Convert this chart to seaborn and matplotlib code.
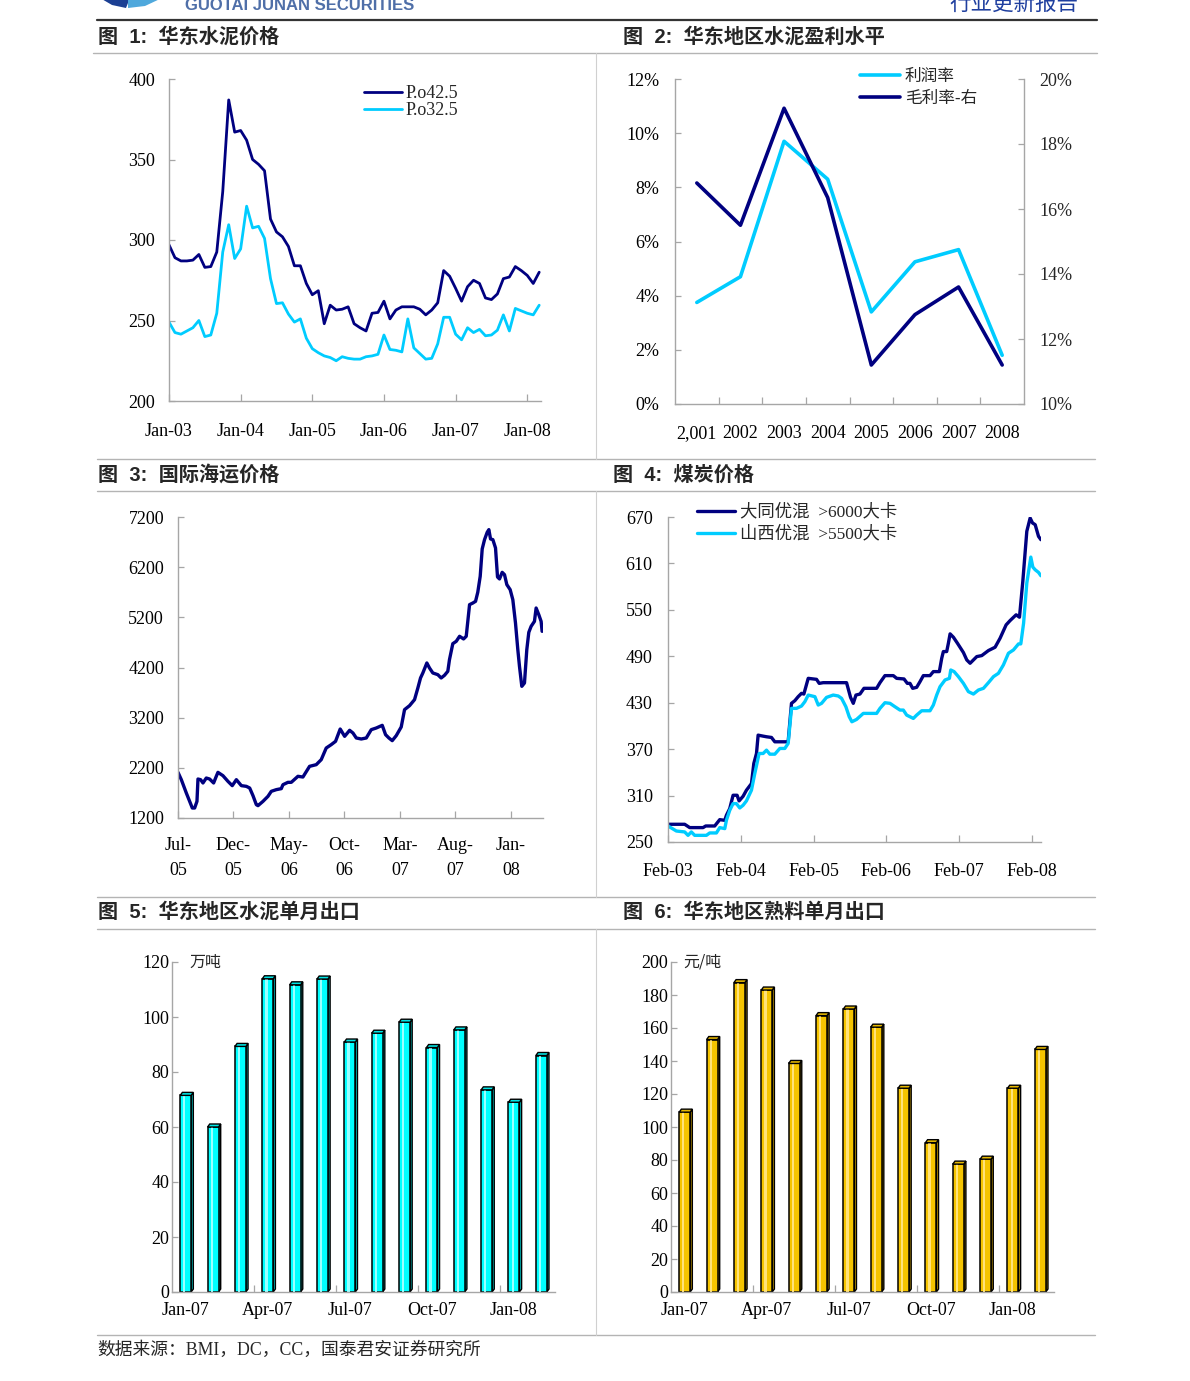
import numpy as np
import pandas as pd
import matplotlib
matplotlib.use('Agg')
import matplotlib.pyplot as plt
import seaborn as sns
from matplotlib.patches import Polygon, Rectangle
from matplotlib.lines import Line2D
from matplotlib.ticker import FixedLocator, FuncFormatter

# ---------------- data ----------------
# Fig 1: East China cement prices, monthly Jan-03 .. Mar-08
cement_xlabels = ['Jan-03', 'Jan-04', 'Jan-05', 'Jan-06', 'Jan-07', 'Jan-08']
po425 = [297, 289, 287, 287, 287.5, 291, 283, 283.5, 292.5, 330, 387, 367,
         368, 362, 350, 347, 343, 313, 305, 302, 296, 284, 284, 273,
         266, 268.5, 248, 259.5, 256.5, 257, 258.5, 248, 245.5, 243.5, 254.5, 255,
         262, 251, 256.5, 258.5, 258.5, 258.5, 257, 253.5, 256.5, 261, 281, 277.5,
         270, 262, 271, 275, 273, 264, 263, 266.5, 276, 277, 283.5, 281,
         278, 273, 280]
po325 = [249, 242.5, 241.5, 243.5, 245.5, 250, 240, 241, 254.5, 292.5, 309.5, 288.5,
         294.5, 321, 307.5, 308.5, 301, 276, 260.5, 261, 254, 249, 251, 239,
         232.5, 230, 228, 227, 225, 227.5, 226.5, 226, 226, 227.5, 228, 229,
         241, 232, 231.5, 230.5, 251, 233, 229.5, 226, 226.5, 235.5, 252, 252,
         241.5, 238, 245.5, 242.5, 244.5, 240.5, 241, 244, 253.5, 243.5, 257.5, 256,
         254.5, 253.5, 259.5]

# Fig 2: profitability (%)
years = ['2,001', '2002', '2003', '2004', '2005', '2006', '2007', '2008']
profit_margin = [3.75, 4.7, 9.7, 8.3, 3.4, 5.25, 5.7, 1.8]      # left axis
gross_margin = [16.8, 15.5, 19.1, 16.35, 11.2, 12.75, 13.6, 11.2]  # right axis

# Fig 3: shipping freight index (months since Jul-05, value)
freight_xlabels = ['Jul-\n05', 'Dec-\n05', 'May-\n06', 'Oct-\n06', 'Mar-\n07', 'Aug-\n07', 'Jan-\n08']
freight_t = [0.00, 0.30, 0.75, 1.05, 1.29, 1.50, 1.71, 1.80, 2.04, 2.25, 2.55, 2.85, 3.21, 3.45,
             3.60, 4.05, 4.50, 4.89, 5.26, 5.71, 6.16, 6.46, 6.76, 7.06, 7.21, 7.66, 8.11, 8.41,
             8.86, 9.31, 9.46, 9.91, 10.21, 10.81, 11.26, 11.86, 12.46, 12.91, 13.36, 13.81, 14.20,
             14.62, 15.02, 15.47, 15.77, 16.07, 16.52, 16.97, 17.42, 17.87, 18.41, 18.71, 19.01,
             19.31, 19.67, 20.12, 20.42, 20.87, 21.32, 21.62, 21.86, 22.07, 22.43, 22.67, 22.97,
             23.42, 23.72, 24.02, 24.32, 24.47, 24.77, 25.08, 25.38, 25.74, 25.98, 26.28, 26.58,
             26.82, 27.02, 27.24, 27.42, 27.63, 27.87, 28.02, 28.17, 28.38, 28.62, 28.80, 28.98,
             29.22, 29.43, 29.64, 29.94, 30.18, 30.42, 30.63, 30.78, 30.99, 31.23, 31.44, 31.62,
             31.83, 32.13, 32.28, 32.52, 32.73, 32.82]
freight_v = [2110, 1964, 1698, 1532, 1399, 1399, 1532, 1977, 1964, 1898, 1997, 1977, 1898, 2031,
             2110, 2044, 1931, 1845, 1964, 1845, 1831, 1798, 1645, 1466, 1446, 1532, 1632, 1732,
             1765, 1785, 1864, 1911, 1911, 2031, 2017, 2230, 2263, 2363, 2595, 2662, 2728,
             2974, 2828, 2948, 2894, 2795, 2775, 2795, 2961, 2994, 3047, 2861, 2795,
             2742, 2841, 3014, 3360, 3439, 3559, 3792, 3991, 4091, 4290, 4190, 4091,
             4057, 3991, 4044, 4124, 4356, 4675, 4722, 4822, 4769, 4822, 5453, 5486,
             5519, 5699, 6018, 6563, 6749, 6895, 6948, 6762, 6749, 6583, 6004, 5965,
             6097, 6051, 5852, 5752, 5552, 5087, 4556, 4223, 3825, 3891, 4556, 4901,
             5021, 5120, 5386, 5253, 5120, 4921]

# Fig 4: coal prices (months since Feb-03, value)
coal_xlabels = ['Feb-03', 'Feb-04', 'Feb-05', 'Feb-06', 'Feb-07', 'Feb-08']
datong_t = [0.00, 2.75, 3.58, 5.78, 6.22, 7.70, 8.53, 9.36, 9.63, 10.18, 10.73, 11.39, 11.72,
            12.38, 12.93, 13.76, 14.15, 14.59, 14.86, 15.69, 16.24, 17.06, 17.61, 18.99, 19.81,
            20.36, 20.91, 21.46, 22.01, 22.40, 23.12, 24.49, 24.93, 25.59, 29.44, 30.10, 30.55,
            30.99, 31.65, 32.31, 34.40, 34.95, 35.77, 37.15, 37.70, 38.91, 39.46, 39.90, 40.34,
            41.00, 41.55, 42.10, 43.20, 43.75, 44.74, 45.13, 45.40, 45.95, 46.23, 46.51, 47.06,
            47.72, 48.71, 49.26, 49.81, 50.91, 51.73, 52.83, 53.93, 54.75, 55.75, 56.41, 57.40,
            57.95, 58.50, 59.16, 59.71, 60.10, 60.54, 61.09, 61.48]
datong_v = [272.9, 272.9, 268.6, 268.6, 270.7, 270.7, 278.9, 278.0, 284.5, 293.2, 310.4, 310.4, 303.1,
            309.1, 316.9, 325.5, 351.5, 364.4, 388.1, 386.8, 386.0, 385.1, 379.5, 379.5, 379.5,
            429.2, 432.6, 437.8, 442.1, 441.2, 461.5, 460.2, 455.0, 455.9, 455.9, 436.9, 429.2,
            439.9, 441.2, 448.6, 448.6, 455.9, 465.0, 465.0, 461.5, 460.7, 455.0, 455.0, 448.6,
            449.9, 457.2, 465.0, 465.0, 470.2, 470.2, 487.4, 496.1, 496.1, 506.9, 519.0, 514.6,
            506.9, 494.8, 485.3, 481.0, 489.6, 490.9, 497.4, 501.7, 513.3, 530.6, 536.2, 543.6,
            540.5, 586.7, 651.5, 668.7, 662.3, 660.1, 645.0, 640.7]
shanxi_t = [0.00, 1.38, 2.75, 3.30, 3.85, 4.40, 6.33, 6.88, 7.98, 8.53, 9.36, 9.63, 10.18, 10.73,
            11.28, 11.83, 12.38, 12.93, 13.76, 14.31, 15.02, 15.69, 16.24, 16.79, 17.61, 18.44,
            19.26, 19.81, 20.36, 21.19, 22.01, 22.56, 23.12, 24.22, 24.77, 25.32, 26.14, 27.24,
            28.07, 28.62, 29.33, 29.88, 30.32, 31.09, 32.20, 34.40, 34.95, 35.77, 36.60, 37.42,
            38.25, 38.80, 39.35, 40.45, 41.00, 41.83, 43.20, 43.75, 44.30, 44.85, 45.68, 46.40,
            46.62, 47.17, 47.88, 48.71, 49.53, 50.36, 51.18, 52.01, 52.83, 53.66, 54.48, 55.30,
            56.13, 56.96, 57.79, 58.17, 58.63, 59.16, 59.82, 60.15, 60.54, 61.09, 61.48]
shanxi_v = [270.7, 264.2, 263.0, 258.6, 263.0, 258.6, 258.6, 261.7, 261.7, 268.6, 267.3, 278.0, 291.0, 299.6,
            299.6, 294.0, 297.5, 303.1, 316.9, 338.5, 364.4, 364.4, 368.7, 363.5, 363.5, 370.9,
            370.9, 377.4, 422.7, 422.7, 425.7, 431.3, 439.9, 437.8, 427.0, 429.2, 436.9, 439.9,
            438.7, 435.6, 424.8, 411.9, 405.4, 408.4, 416.2, 416.2, 422.7, 430.0, 429.2, 424.8,
            420.5, 420.5, 414.0, 409.7, 414.0, 419.6, 419.6, 427.0, 439.9, 450.7, 459.4, 461.5,
            472.3, 470.2, 463.7, 455.0, 444.3, 441.2, 446.4, 448.6, 455.9, 463.7, 468.0, 478.8,
            493.9, 498.2, 506.0, 506.0, 532.8, 584.6, 618.2, 605.3, 601.8, 598.4, 594.1]

# Fig 5 / Fig 6: monthly exports
export_months = ['Jan-07', 'Feb-07', 'Mar-07', 'Apr-07', 'May-07', 'Jun-07', 'Jul-07',
                 'Aug-07', 'Sep-07', 'Oct-07', 'Nov-07', 'Dec-07', 'Jan-08', 'Feb-08']
cement_export = [71.5, 60, 89.3, 113.9, 111.7, 113.8, 90.9, 94.1, 98.1, 88.9, 95.3, 73.5, 69, 86]
clinker_export = [109, 153, 187.5, 183, 138.5, 167.5, 171.5, 160.5, 123.5, 90.5, 77.5, 80.5, 123.5, 147]

# ---------------- style ----------------
sns.set_theme(style='ticks')
plt.rcParams['font.family'] = ['Liberation Serif', 'Noto Sans CJK SC']
plt.rcParams['axes.unicode_minus'] = False

NAVY = '#000080'
CYAN = '#00CCFF'
GRAY = '#A6A6A6'
SEP = '#B4B4B4'
CJK = 'Noto Sans CJK SC'
TITLE_FAM = ['Liberation Sans', 'Noto Sans CJK SC']

W, H = 1190, 1381
fig = plt.figure(figsize=(W / 100, H / 100), dpi=100)


def fx(x):
    return x / W


def fy(y):
    return 1 - y / H


def rect(l, t, r, b):
    return [fx(l), fy(b), fx(r) - fx(l), fy(t) - fy(b)]


def style(ax, xpad, ypad, size=13):
    for s in ['top', 'right']:
        ax.spines[s].set_visible(False)
    for s in ['left', 'bottom']:
        ax.spines[s].set_color(GRAY)
        ax.spines[s].set_linewidth(1.0)
    ax.tick_params(which='both', direction='in', color=GRAY, width=0.9,
                   labelcolor='black', labelsize=size, bottom=True, left=True)
    ax.tick_params(axis='y', length=4, pad=ypad)
    ax.tick_params(axis='x', length=5, pad=xpad)
    ax.set_xlabel('')
    ax.set_ylabel('')
    ax.grid(False)


# ---------------- header & separators ----------------
def hline(y, x0, x1, color, lw):
    fig.add_artist(Line2D([fx(x0), fx(x1)], [fy(y), fy(y)], color=color, lw=lw,
                          transform=fig.transFigure))


def vline(x, y0, y1, color, lw):
    fig.add_artist(Line2D([fx(x), fx(x)], [fy(y0), fy(y1)], color=color, lw=lw,
                          transform=fig.transFigure))


# logo fragments (clipped at top edge, as in the source page)
fig.add_artist(Polygon([(fx(100), fy(-2)), (fx(130), fy(-2)), (fx(126), fy(8)), (fx(112), fy(5))],
                       closed=True, fc='#1B3F93', ec='none', transform=fig.transFigure))
fig.add_artist(Polygon([(fx(128), fy(-2)), (fx(162), fy(-2)), (fx(145), fy(6)), (fx(128), fy(8))],
                       closed=True, fc='#4FA8DC', ec='none', transform=fig.transFigure))
fig.text(fx(185), fy(10), 'GUOTAI JUNAN SECURITIES', family='Liberation Sans', weight='bold',
         size=12, color='#4F6FA8', ha='left', va='baseline')
fig.text(fx(1078), fy(4), '行业更新报告', family=CJK, size=15.5, color='#1F3F9F',
         ha='right', va='center')

hline(20, 97, 1097, '#333333', 1.6)
hline(53, 93, 1097, SEP, 1.0)
hline(459, 97, 1095, SEP, 1.0)
hline(491, 97, 1095, SEP, 1.0)
hline(897, 97, 1095, SEP, 1.0)
hline(929, 97, 1095, SEP, 1.0)
hline(1335, 97, 1095, SEP, 1.0)
vline(596, 53, 459, '#D0D0D0', 0.8)
vline(596, 491, 897, '#D0D0D0', 0.8)
vline(596, 929, 1335, '#D0D0D0', 0.8)

titles = [(98, 37, '图  1:  华东水泥价格'), (623, 37, '图  2:  华东地区水泥盈利水平'),
          (98, 475, '图  3:  国际海运价格'), (613, 475, '图  4:  煤炭价格'),
          (98, 912, '图  5:  华东地区水泥单月出口'), (623, 912, '图  6:  华东地区熟料单月出口')]
for x, y, t in titles:
    fig.text(fx(x), fy(y), t, family=TITLE_FAM, weight='bold', size=14.5, ha='left', va='center')

fig.text(fx(97), fy(1350), '数据来源：BMI，DC，CC，国泰君安证券研究所',
         family=['Liberation Serif', CJK], size=12.8, ha='left', va='center')

# ---------------- Fig 1 ----------------
ax1 = fig.add_axes(rect(169, 79, 541, 401))
m1 = np.arange(len(po425))
sns.lineplot(x=m1, y=po425, color=NAVY, lw=2.0, label='P.o42.5', ax=ax1)
sns.lineplot(x=m1, y=po325, color=CYAN, lw=2.0, label='P.o32.5', ax=ax1)
ax1.set_xlim(0, 62.3)
ax1.set_ylim(200, 400)
ax1.set_yticks(np.arange(200, 401, 50))
ax1.set_xticks(np.arange(0, 61, 12))
ax1.set_xticklabels(cement_xlabels)
style(ax1, xpad=16, ypad=10)
ax1.legend(loc='upper left', bbox_to_anchor=(0.524, 0.98), frameon=False, fontsize=13,
           handlelength=2.1, handletextpad=0.2, labelspacing=0.0, borderpad=0, borderaxespad=0)

# ---------------- Fig 2 ----------------
ax2 = fig.add_axes(rect(675, 79, 1024, 404))
idx = np.arange(len(years))
sns.lineplot(x=idx, y=profit_margin, color=CYAN, lw=2.6, ax=ax2)
ax2.set_xlim(-0.5, len(years) - 0.5)
ax2.set_ylim(0, 12)
ax2.set_yticks(np.arange(0, 12.1, 2))
ax2.yaxis.set_major_formatter(FuncFormatter(lambda v, p: f'{v:.0f}%'))
ax2.set_xticks(idx)
ax2.set_xticklabels(years)
ax2.xaxis.set_minor_locator(FixedLocator(idx[:-1] + 0.5))
style(ax2, xpad=15, ypad=11)
ax2.tick_params(axis='x', which='major', length=0)
ax2.tick_params(axis='x', which='minor', length=5)

ax2r = ax2.twinx()
sns.lineplot(x=idx, y=gross_margin, color=NAVY, lw=2.6, ax=ax2r)
ax2r.set_ylim(10, 20)
ax2r.set_yticks(np.arange(10, 20.1, 2))
ax2r.yaxis.set_major_formatter(FuncFormatter(lambda v, p: f'{v:.0f}%'))
for s in ['top', 'left', 'bottom']:
    ax2r.spines[s].set_visible(False)
ax2r.spines['right'].set_color(GRAY)
ax2r.spines['right'].set_linewidth(1.0)
ax2r.tick_params(axis='y', direction='in', length=4, color=GRAY, width=0.9, labelsize=13,
                 pad=11, right=True, labelright=True, left=False, labelleft=False)
ax2r.set_ylabel('')
ax2r.legend([ax2.lines[0], ax2r.lines[0]], ['利润率', '毛利率-右'], loc='upper left',
            bbox_to_anchor=(0.53, 1.035), frameon=False, prop={'family': CJK, 'size': 12},
            handlelength=2.4, handletextpad=0.3, labelspacing=0.3, borderpad=0, borderaxespad=0)

# ---------------- Fig 3 ----------------
ax3 = fig.add_axes(rect(178, 517, 543, 818))
sns.lineplot(x=freight_t, y=freight_v, color=NAVY, lw=2.4, ax=ax3)
ax3.set_xlim(0, 32.9)
ax3.set_ylim(1200, 7200)
ax3.set_yticks(np.arange(1200, 7201, 1000))
ax3.set_xticks(np.arange(0, 31, 5))
ax3.set_xticklabels(freight_xlabels)
style(ax3, xpad=14, ypad=10, size=13)
for t in ax3.get_xticklabels():
    t.set_linespacing(1.55)

# ---------------- Fig 4 ----------------
ax4 = fig.add_axes(rect(668, 517, 1041, 842))
sns.lineplot(x=datong_t, y=datong_v, color=NAVY, lw=2.4, label='大同优混  >6000大卡', ax=ax4)
sns.lineplot(x=shanxi_t, y=shanxi_v, color=CYAN, lw=2.4, label='山西优混  >5500大卡', ax=ax4)
ax4.set_xlim(0, 61.5)
ax4.set_ylim(250, 670)
ax4.set_yticks(np.arange(250, 671, 60))
ax4.set_xticks(np.arange(0, 61, 12))
ax4.set_xticklabels(coal_xlabels)
style(ax4, xpad=15, ypad=11)
ax4.legend(loc='upper left', bbox_to_anchor=(0.077, 1.04), frameon=False,
           prop={'family': ['Liberation Serif', CJK], 'size': 12.5},
           handlelength=2.2, handletextpad=0.3, labelspacing=0.3, borderpad=0, borderaxespad=0)


# ---------------- Fig 5 / 6 (3D-looking bars) ----------------
def cylinder_bars(ax, side, top, light):
    y0, y1 = ax.get_ylim()
    ppu = ax.bbox.height / (y1 - y0)
    dy = 3.0 / ppu
    for p in list(ax.patches):
        x0, w, h = p.get_x(), p.get_width(), p.get_height()
        dx = w * 0.2
        z = p.get_zorder()
        ax.add_patch(Polygon([(x0 + w, 0), (x0 + w + dx, dy), (x0 + w + dx, h + dy), (x0 + w, h)],
                             closed=True, fc=side, ec='black', lw=1.0, zorder=z - 0.1))
        ax.add_patch(Rectangle((x0 + w * 0.28, 0), w * 0.2, h, fc=light, ec='none', zorder=z + 0.05))
        ax.add_patch(Polygon([(x0, h), (x0 + w, h), (x0 + w + dx, h + dy), (x0 + dx, h + dy)],
                             closed=True, fc=top, ec='black', lw=1.0, zorder=z + 0.1))


def bar_panel(ax, values, face, side, top, light, ymax, step, unit, unit_x):
    sns.barplot(x=export_months, y=values, color=face, saturation=1, width=0.4,
                edgecolor='black', linewidth=1.1, ax=ax)
    ax.set_ylim(0, ymax)
    ax.set_xlim(-0.5, len(export_months) - 0.5)
    ax.set_yticks(np.arange(0, ymax + 1, step))
    ticks = list(range(0, len(export_months), 3))
    ax.set_xticks(ticks)
    ax.set_xticklabels([export_months[i] for i in ticks])
    ax.xaxis.set_minor_locator(FixedLocator([i - 0.5 for i in ticks[1:]]))
    style(ax, xpad=7, ypad=2, size=13)
    ax.tick_params(axis='x', which='major', length=0)
    ax.tick_params(axis='x', which='minor', length=5)
    cylinder_bars(ax, side, top, light)
    ax.text(unit_x, 1.0, unit, transform=ax.transAxes, ha='left', va='center',
            family=CJK, size=11.5)


ax5 = fig.add_axes(rect(172, 962, 555, 1292))
bar_panel(ax5, cement_export, '#00FFFF', '#00BDBD', '#00E5E5', '#9BFFFF', 120, 20, '万吨', 0.045)

ax6 = fig.add_axes(rect(671, 962, 1054, 1292))
bar_panel(ax6, clinker_export, '#F5C400', '#B88F00', '#E6B800', '#FFE27A', 200, 20, '元/吨', 0.032)

fig.savefig('out.png', dpi=100, facecolor='white')
